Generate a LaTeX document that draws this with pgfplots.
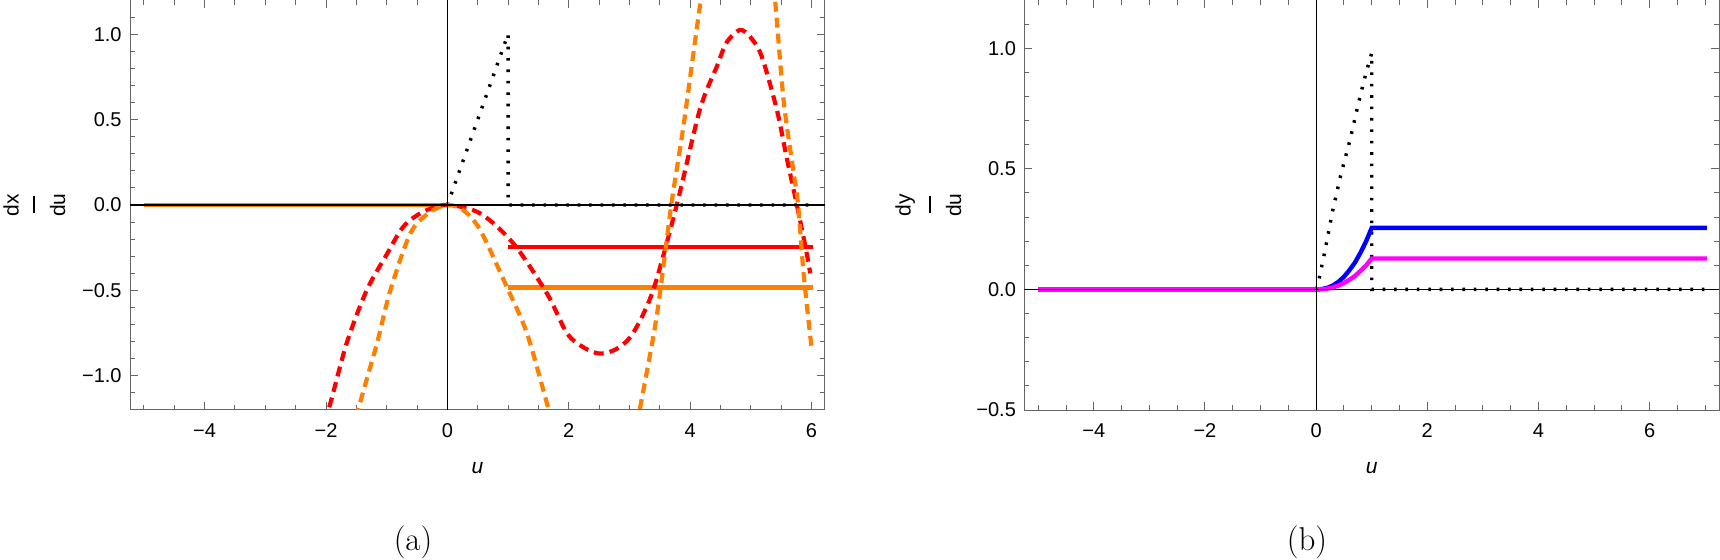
\documentclass[border=0pt]{standalone}
\usepackage{fontspec}
\usepackage{pgfplots}
\pgfplotsset{compat=1.18}
\newfontfamily\arial{Liberation Sans}
\definecolor{mOrange}{rgb}{1,0.5,0}
\definecolor{mMagenta}{rgb}{1,0,1}
\definecolor{mBlue}{rgb}{0,0,1}
\definecolor{mFrame}{gray}{0.4}

% rotated Mathematica-style fraction label
\newcommand{\vfrac}[2]{\vbox{\offinterlineskip
  \hbox to 16bp{\hss#1\hss}\vskip7.2bp
  \hbox to 16bp{\hss\rule{8.5bp}{0.7bp}\hss}\vskip7.6bp
  \hbox to 16bp{\hss#2\hss}}}

\pgfplotsset{
  mframe/.style={
    scale only axis, anchor=south west,
    width=347.4bp, height=205bp,
    axis line style={mFrame, line width=0.5bp},
    tick align=inside,
    major tick length=4bp, minor tick length=2.5bp,
    tick style={mFrame, line width=0.5bp},
    ticklabel style={font=\arial\fontsize{10bp}{11bp}\selectfont, inner sep=0pt},
    xticklabel style={anchor=north, yshift=-6.7bp},
    yticklabel style={anchor=east, xshift=-4bp},
    xlabel={u},
    xlabel style={at={(axis description cs:0.5,0)}, anchor=base, yshift=-31.75bp,
      inner sep=0pt, font=\arial\itshape\fontsize{10.5bp}{11bp}\selectfont},
  },
  dsh/.style={line width=2.1bp, dash pattern=on 5bp off 3bp},
  sld/.style={line width=2.2bp},
  dtt/.style={black, line width=1.7bp, dash pattern=on 1.3bp off 4.4bp},
}

\begin{document}
\begin{tikzpicture}
\path[use as bounding box] (0,0) rectangle (860bp,280bp);

% ---------------- (a) ----------------
\begin{axis}[mframe,
    at={(65bp,75bp)},
    xmin=-5.23, xmax=6.22, ymin=-1.2, ymax=1.2,
    xtick={-4,-2,0,2,4,6}, xticklabels={−4,−2,0,2,4,6},
    ytick={-1,-0.5,0,0.5,1}, yticklabels={−1.0,−0.5,0.0,0.5,1.0},
    minor xtick={-5,-4.5,...,6},
    minor ytick={-1.1,-1.0,...,1.15},
]
\addplot[dtt] coordinates {(0,0) (1,1) (1,0) (6,0)};

\addplot[red, sld] coordinates {(-5,0) (0,0)};
\addplot[mOrange, sld] coordinates {(-5,0) (0,0)};
\addplot[red, sld] coordinates {(1,-0.245) (6.02,-0.245)};
\addplot[mOrange, sld] coordinates {(1,-0.483) (6.02,-0.483)};

\addplot[red, dsh, smooth] coordinates {
(-2.2,-1.45) (-1.96,-1.2) (-1.66,-0.81) (-1.33,-0.50) (-1.0,-0.29)
(-0.725,-0.127) (-0.4,-0.04) (0,0) (0.54,-0.049) (1.087,-0.225)
(1.64,-0.517) (1.97,-0.75) (2.25,-0.835) (2.52,-0.87) (2.8,-0.84)
(3.06,-0.75) (3.39,-0.5) (3.78,0) (4.16,0.557) (4.44,0.81) (4.6,0.95)
(4.82,1.025) (5.0,0.98) (5.18,0.87) (5.43,0.557) (5.59,0.28) (5.76,0)
(5.92,-0.28) (5.98,-0.40)};

\addplot[mOrange, dsh, smooth] coordinates {
(-1.6,-1.43) (-1.47,-1.2) (-1.16,-0.81) (-0.94,-0.5) (-0.61,-0.166)
(-0.3,-0.045) (0,0) (0.26,-0.03) (0.54,-0.146) (0.98,-0.48) (1.31,-0.75)
(1.64,-1.16) (1.9,-1.5) (2.2,-1.75) (2.5,-1.83) (2.8,-1.72) (3.05,-1.45)
(3.17,-1.2) (3.45,-0.65) (3.69,0) (3.89,0.46) (4.16,1.16) (4.3,1.45)
(4.6,1.95) (4.85,2.1) (5.1,1.9) (5.3,1.5) (5.40,1.2) (5.54,0.615)
(5.70,0.205) (5.78,0) (5.87,-0.4) (6.0,-0.83)};

\draw[black, line width=0.6bp] (axis cs:0,-1.2) -- (axis cs:0,1.2);
\draw[black, line width=0.6bp] (axis cs:-5.23,0) -- (axis cs:6.22,0);
\end{axis}

% ---------------- (b) ----------------
\begin{axis}[mframe,
    at={(512.15bp,75bp)},
    xmin=-5.25, xmax=7.25, ymin=-0.5, ymax=1.2,
    xtick={-4,-2,0,2,4,6}, xticklabels={−4,−2,0,2,4,6},
    ytick={-0.5,0,0.5,1}, yticklabels={−0.5,0.0,0.5,1.0},
    minor xtick={-5,-4.5,...,7},
    minor ytick={-0.4,-0.3,...,1.15},
]
\addplot[dtt] coordinates {(0,0) (0.05,0.04) (0.15,0.15) (0.31,0.34) (0.45,0.48)
  (0.61,0.62) (0.79,0.8) (0.9,0.9) (1,0.98) (1,0) (7,0)};

\addplot[mBlue, sld] coordinates {(-5,0) (0,0) (0.1,0.0013) (0.2,0.0063)
  (0.3,0.016) (0.4,0.031) (0.5,0.052) (0.6,0.080) (0.7,0.112) (0.8,0.153)
  (0.9,0.200) (1,0.255) (7.03,0.255)};
\addplot[mMagenta, sld] coordinates {(-5,0) (0,0) (0.1,0.0007) (0.2,0.003)
  (0.3,0.008) (0.4,0.016) (0.5,0.026) (0.6,0.04) (0.7,0.056) (0.8,0.077)
  (0.9,0.1) (1,0.128) (7.03,0.128)};

\draw[black, line width=0.6bp] (axis cs:0,-0.5) -- (axis cs:0,1.2);
\draw[black, line width=0.6bp] (axis cs:-5.25,0) -- (axis cs:7.25,0);
\end{axis}

% axis labels and captions
\node[rotate=90, anchor=north, inner sep=0pt,
  font=\arial\fontsize{10.5bp}{11bp}\selectfont] at (1.5bp,177.5bp) {\vfrac{dx}{du}};
\node[rotate=90, anchor=north, inner sep=0pt,
  font=\arial\fontsize{10.5bp}{11bp}\selectfont] at (447.5bp,177.5bp) {\vfrac{dy}{du}};

\node[anchor=base, inner sep=0pt, font=\fontsize{16.5bp}{20bp}\selectfont]
  at (206.5bp,5bp) {(a)};
\node[anchor=base, inner sep=0pt, font=\fontsize{16.5bp}{20bp}\selectfont]
  at (653.5bp,5bp) {(b)};
\end{tikzpicture}
\end{document}
